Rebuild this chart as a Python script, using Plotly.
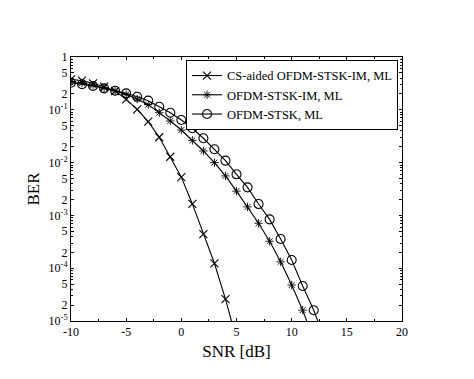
import plotly.graph_objects as go

snr_cs = [-10, -9, -8, -7, -6, -5, -4, -3, -2, -1, 0, 1, 2, 3, 4, 5]
ber_cs = [0.378, 0.356, 0.318, 0.274, 0.227, 0.158, 0.102, 0.0595, 0.0302, 0.0129,
          0.0053, 1.65e-3, 4.4e-4, 1.24e-4, 2.6e-5, 4.5e-6]

snr_im = [-10, -9, -8, -7, -6, -5, -4, -3, -2, -1, 0, 1, 2, 3, 4, 5, 6, 7, 8, 9, 10, 11, 12]
ber_im = [0.3435, 0.322, 0.291, 0.259, 0.227, 0.195, 0.160, 0.125, 0.088, 0.0614,
          0.0414, 0.0264, 0.0166, 0.0100, 5.6e-3, 2.88e-3, 1.45e-3, 7.1e-4, 3.24e-4,
          1.32e-4, 4.8e-5, 1.6e-5, 4.5e-6]

snr_st = [-10, -9, -8, -7, -6, -5, -4, -3, -2, -1, 0, 1, 2, 3, 4, 5, 6, 7, 8, 9, 10, 11, 12, 13]
ber_st = [0.326, 0.304, 0.282, 0.255, 0.230, 0.205, 0.177, 0.149, 0.1145, 0.088,
          0.064, 0.0447, 0.0289, 0.0179, 0.0109, 6.0e-3, 3.4e-3, 1.64e-3, 8.4e-4,
          3.57e-4, 1.43e-4, 4.6e-5, 1.6e-5, 4.5e-6]

names = ["CS-aided OFDM-STSK-IM, ML", "OFDM-STSK-IM, ML", "OFDM-STSK, ML"]

x_ticks = [-10, -5, 0, 5, 10, 15, 20]
y_tickvals = [1, 0.5, 0.2, 0.1, 0.05, 0.02, 0.01, 5e-3, 2e-3, 1e-3, 5e-4, 2e-4,
              1e-4, 5e-5, 2e-5, 1e-5]
y_ticktext = ["1", "5", "2", "10<sup>-1</sup>", "5", "2", "10<sup>-2</sup>", "5", "2",
              "10<sup>-3</sup>", "5", "2", "10<sup>-4</sup>", "5", "2", "10<sup>-5</sup>"]

minor_y = [m * 10 ** e for e in range(-5, 0) for m in range(2, 10)]

font = "Liberation Serif"

fig = go.Figure()
styles = [
    (snr_cs, ber_cs, "x-thin-open", 8),
    (snr_im, ber_im, "asterisk-open", 7),
    (snr_st, ber_st, "circle-open", 9),
]
for (x, y, sym, sz), nm in zip(styles, names):
    fig.add_trace(go.Scatter(
        x=x, y=y, mode="lines+markers", name=nm,
        line=dict(color="black", width=1.1),
        marker=dict(symbol=sym, size=sz, color="black",
                    line=dict(color="black", width=0.9 if sym == "asterisk-open" else 1.1)),
    ))

fig.update_layout(
    width=474, height=379,
    margin=dict(l=71, r=72, t=57, b=58, autoexpand=False),
    paper_bgcolor="white", plot_bgcolor="white",
    font=dict(family=font, size=12, color="black"),
    showlegend=True,
    legend=dict(
        x=0.988, y=0.989, xanchor="right", yanchor="top",
        bordercolor="black", borderwidth=1, bgcolor="white",
        font=dict(family=font, size=12.5, color="black"),
        itemwidth=30, tracegroupgap=0,
    ),
)
fig.update_xaxes(
    range=[-10, 20], tickvals=x_ticks, ticktext=[str(v) for v in x_ticks],
    ticks="inside", ticklen=3, tickcolor="black", automargin=False,
    showline=True, linecolor="black", linewidth=1, mirror="ticks",
    showgrid=False, zeroline=False,
    minor=dict(tickvals=[-7.5, -2.5, 2.5, 7.5, 12.5, 17.5], ticks="inside",
               ticklen=2, tickcolor="black"),
    title=dict(text="SNR [dB]", font=dict(family=font, size=17), standoff=6),
    tickfont=dict(family=font, size=12),
)
fig.update_yaxes(
    type="log", range=[-5, 0],
    tickvals=y_tickvals, ticktext=y_ticktext,
    ticks="inside", ticklen=3, tickcolor="black", automargin=False,
    showline=True, linecolor="black", linewidth=1, mirror="ticks",
    showgrid=False, zeroline=False,
    minor=dict(tickvals=minor_y, ticks="inside", ticklen=2, tickcolor="black"),
    title=dict(text="BER", font=dict(family=font, size=17), standoff=4),
    tickfont=dict(family=font, size=12),
)

fig.write_html("out.html", post_script="document.body.style.margin='0';",
               config={"displayModeBar": False})
